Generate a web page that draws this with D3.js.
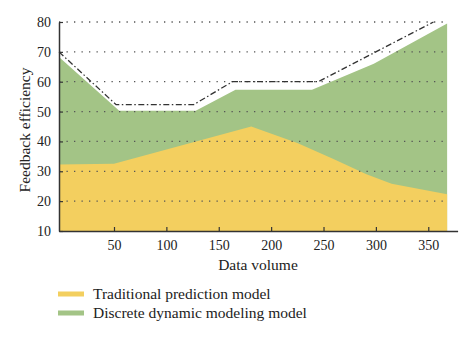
<!DOCTYPE html>
<html>
<head>
<meta charset="utf-8">
<script src="https://cdn.jsdelivr.net/npm/d3@7"></script>
<style>
  html, body { margin: 0; padding: 0; background: #fff; }
  svg { display: block; }
  text { font-family: "Liberation Serif", "DejaVu Serif", serif; fill: #222; }
</style>
</head>
<body>
<svg id="chart" width="474" height="339"></svg>
<script>
// ---- data ----
const seriesNames = ["Traditional prediction model", "Discrete dynamic modeling model"];
const traditionalX = [-2.5, 50, 181, 225, 260, 291, 315, 368];
const traditionalY = [32.3, 32.5, 45, 39.5, 34, 29, 25.8, 22.3];
const discreteX = [-2.5, 55, 128, 166, 239, 298, 368];
const discreteY = [68.3, 50.3, 50.3, 57.3, 57.3, 66, 79.5];
const envelopeX = [-2.5, 52, 126, 163, 245, 355];
const envelopeY = [70, 52.3, 52.3, 60, 60, 80];
const xTicks = [50, 100, 150, 200, 250, 300, 350];
const yTicks = [10, 20, 30, 40, 50, 60, 70, 80];
const gridValues = [20, 30, 40, 50, 60, 70, 80];
const colors = ["#f3cf5f", "#a3c486"];

const svg = d3.select("#chart");
const x = d3.scaleLinear().domain([-2.5, 378]).range([59, 457.6]);
const y = d3.scaleLinear().domain([10, 80]).range([231, 22]);
const base = 10;

const toPts = (xs, ys) => xs.map((v, i) => ({x: v, y: ys[i]}));
const trad = toPts(traditionalX, traditionalY);
const disc = toPts(discreteX, discreteY);
const env = toPts(envelopeX, envelopeY);

const area = d3.area().x(d => x(d.x)).y0(y(base)).y1(d => y(d.y));
// green area (behind), yellow area on top
svg.append("path").attr("d", area(disc)).attr("fill", colors[1]);
svg.append("path").attr("d", area(trad)).attr("fill", colors[0]);

// dotted grid
const gridEnd = 365;
svg.append("g").selectAll("line").data(gridValues).join("line")
  .attr("x1", x(-2.5)).attr("x2", x(gridEnd))
  .attr("y1", d => y(d)).attr("y2", d => y(d))
  .attr("stroke", "#555").attr("stroke-width", 1.3)
  .attr("stroke-dasharray", "1.3,6.2");

// dash-dot envelope line
svg.append("path")
  .attr("d", d3.line().x(d => x(d.x)).y(d => y(d.y))(env))
  .attr("fill", "none").attr("stroke", "#333").attr("stroke-width", 1.3)
  .attr("stroke-dasharray", "6,2.5,1.5,2.5");

// axes
const xAxis = d3.axisBottom(x).tickValues(xTicks).tickSizeInner(-4).tickSizeOuter(0).tickPadding(9);
const gx = svg.append("g").attr("transform", `translate(0,${y(base)})`).call(xAxis);
gx.select(".domain").attr("stroke", "#333").attr("stroke-width", 1.5);
gx.selectAll(".tick line").attr("stroke", "#333").attr("stroke-width", 1.2);
gx.selectAll("text").attr("font-size", 14).attr("font-family", "Liberation Serif").attr("fill", "#222");

const yAxis = d3.axisLeft(y).tickValues(yTicks).tickSizeInner(-4).tickSizeOuter(0).tickPadding(8);
const gy = svg.append("g").attr("transform", `translate(${x(-2.5)},0)`).call(yAxis);
gy.select(".domain").attr("stroke", "#333").attr("stroke-width", 1.5);
gy.selectAll(".tick line").attr("stroke", "#333").attr("stroke-width", 1.2);
gy.selectAll("text").attr("font-size", 14).attr("font-family", "Liberation Serif").attr("fill", "#222");

// axis titles
svg.append("text").attr("x", 258).attr("y", 270).attr("text-anchor", "middle")
  .attr("font-size", 15.5).text("Data volume");
svg.append("text").attr("transform", "translate(30,130) rotate(-90)").attr("text-anchor", "middle")
  .attr("font-size", 15.5).text("Feedback efficiency");

// legend
const legend = svg.append("g");
seriesNames.forEach((name, i) => {
  const cy = 294 + i * 19;
  legend.append("rect").attr("x", 58).attr("y", cy - 2.5).attr("width", 26).attr("height", 5)
    .attr("fill", colors[i]);
  legend.append("text").attr("x", 93).attr("y", cy + 4.5).attr("font-size", 15.5).text(name);
});
</script>
</body>
</html>
